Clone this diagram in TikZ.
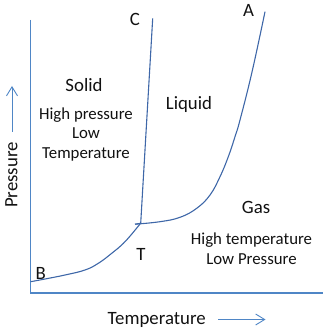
\documentclass[tikz,border=0pt]{standalone}
\usepackage{fontspec}
\setmainfont{Carlito}
\usetikzlibrary{arrows.meta}
\definecolor{axisblue}{HTML}{4F86C6}
\definecolor{curveblue}{HTML}{3E67A8}
\definecolor{txt}{HTML}{111111}
\begin{document}
\begin{tikzpicture}[x=1pt,y=-1pt,
  axisline/.style={draw=axisblue,line width=1.1pt},
  curve/.style={draw=curveblue,line width=1.1pt},
  ptr/.style={draw=axisblue,line width=0.9pt,-{Straight Barb[length=9pt,width=11pt,line width=0.9pt]}},
  big/.style={text=txt,font=\fontsize{18.8}{20}\selectfont,inner sep=0pt},
  small/.style={text=txt,font=\fontsize{16.8}{19.6}\selectfont,inner sep=0pt,align=center}]
\useasboundingbox (0,0) rectangle (326,331);
% axes
\coordinate (top) at (30.7,20);
\coordinate (origin) at (30.7,293);
\coordinate (right) at (322.7,293);
\draw[axisline] (top) -- (origin) -- (right);
% points
\coordinate (B) at (30.7,281.7);
\coordinate (T) at (140,224);
\coordinate (T0) at (135,224.2);
\coordinate (C) at (152.7,18.3);
\coordinate (A) at (265,11.7);
% sublimation curve
\draw[curve] plot[smooth,tension=0.7] coordinates {(B) (45,279) (65,275) (85,270) (98.3,263.3) (111.7,253.3) (125,241.7) (T)};
% fusion curve
\draw[curve] (T0) -- (140.7,223.3) -- (C);
% vaporization curve
\draw[curve] plot[smooth,tension=0.7] coordinates {(T0) (160,221.7) (180,217.3) (196.7,208.3) (210,195) (220,176.7) (228.3,156.7) (235,136.7) (240,120) (252,72) (A)};
% labels
\node[big] (lC) at (135,19.3) {C};
\node[big] (lA) at (248.5,10.5) {A};
\node[big] (lsolid) at (84,85) {Solid};
\node[small] (lsolidd) at (86,134.5) {High pressure\\Low\\Temperature};
\node[big] (lliq) at (189,104) {Liquid};
\node[big] (lgas) at (256,207.5) {Gas};
\node[small] (lgasd) at (251.5,248.5) {High temperature\\Low Pressure};
\node[big] (lT) at (141,254.5) {T};
\node[big] (lB) at (40.7,273.5) {B};
\node[big,rotate=90] (lP) at (11.5,175) {Pressure};
\node[big] (lTemp) at (156.7,320) {Temperature};
% pointer arrows
\coordinate (pa1) at (12,131.7);
\coordinate (pa2) at (12,86);
\draw[ptr] (pa1) -- (pa2);
\coordinate (ta1) at (218.3,319.5);
\coordinate (ta2) at (265.5,319.5);
\draw[ptr] (ta1) -- (ta2);
\end{tikzpicture}
\end{document}
